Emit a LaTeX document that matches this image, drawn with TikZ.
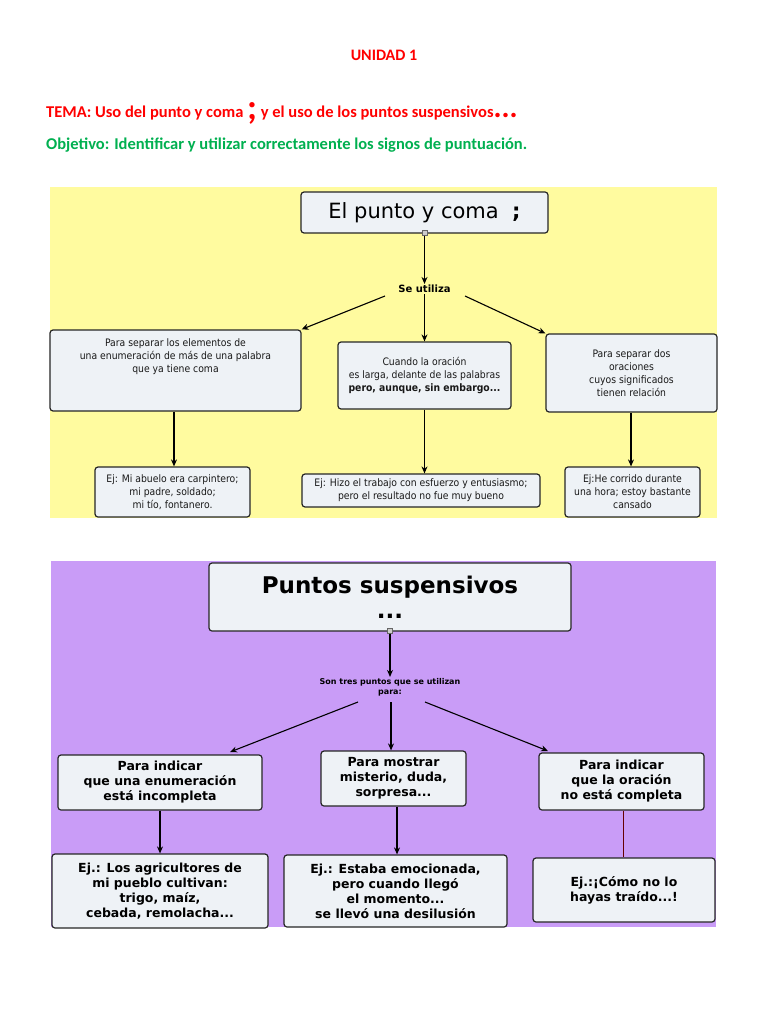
\documentclass[tikz,border=0pt]{standalone}
\usepackage{fontspec}
\setmainfont{Carlito}
\newfontfamily\dv{DejaVu Sans}
\newfontfamily\dvc{DejaVu Sans Condensed}
\usetikzlibrary{arrows.meta}
\definecolor{ttred}{HTML}{FF0000}
\definecolor{ttgreen}{HTML}{00B050}
\definecolor{ybg}{HTML}{FFFB9F}
\definecolor{pbg}{HTML}{C99CF7}
\definecolor{boxf}{HTML}{EEF2F6}
\tikzset{
 bx/.style={draw=black!85,line width=1.2pt,rounded corners=3pt,fill=boxf,align=center,inner sep=0pt},
 ar/.style={-{Stealth[length=7pt,width=6pt]},line width=1.1pt},
 ys/.style={font=\dvc\fontsize{10.3}{13}\selectfont,text=black!90},
 ps/.style={font=\dv\bfseries\fontsize{12.5}{15}\selectfont},
}
\begin{document}
\begin{tikzpicture}[x=1pt,y=-1pt]
\useasboundingbox (0,0) rectangle (768,1024);
\fill[white] (0,0) rectangle (768,1024);
\node[font=\bfseries\fontsize{16}{19}\selectfont,text=ttred] (u) at (384,55) {UNIDAD 1};
\node[anchor=west,font=\bfseries\fontsize{16.5}{19}\selectfont,text=ttred,inner sep=0] (tema) at (46,113) {TEMA: Uso del punto y coma \raisebox{-2pt}{\fontsize{36}{36}\selectfont ;} y el uso de los puntos suspensivos{\fontsize{30}{30}\selectfont ...}};
\node[anchor=west,font=\bfseries\fontsize{16.5}{19}\selectfont,text=ttgreen,inner sep=0] (obj) at (46,145) {Objetivo: Identificar y utilizar correctamente los signos de puntuación.};
% yellow panel
\fill[ybg] (50,187) rectangle (717,518);
\node[bx,minimum width=247,minimum height=41,font=\dv\fontsize{21}{24}\selectfont] (t1) at (424.5,212.5) {El punto y coma \ \textbf{;}};
\node[draw=black!60,fill=gray!40,minimum size=5pt,inner sep=0] (sq1) at (424.5,233) {};
\node[font=\dv\bfseries\fontsize{10}{12}\selectfont,inner sep=1pt] (su) at (424.5,289) {Se utiliza};
\draw[ar] (sq1) -- (su);
\node[bx,ys,minimum width=251,minimum height=81] (a1) at (175.5,370.5) {Para separar los elementos de\\una  enumeración de más de una palabra\\que ya tiene coma\\[16pt]};
\node[bx,ys,minimum width=173,minimum height=67] (a2) at (424.5,375.5) {Cuando la oración\\es larga, delante de las palabras\\\textbf{pero, aunque, sin embargo...}};
\node[bx,ys,minimum width=171,minimum height=78] (a3) at (631.5,373) {Para separar dos\\oraciones\\cuyos significados\\tienen relación};
\coordinate (s1) at (385,296);\coordinate (s3) at (465,296);
\draw[ar] (s1) -- (a1.north east);
\draw[ar] (su) -- (a2);
\draw[ar] (s3) -- (a3.north west);
\node[bx,ys,minimum width=155,minimum height=50] (b1) at (172.5,492) {Ej: Mi abuelo era carpintero;\\mi padre, soldado;\\mi tío, fontanero.};
\node[bx,ys,minimum width=238,minimum height=33] (b2) at (421,490.5) {Ej: Hizo el trabajo con esfuerzo y entusiasmo;\\pero el resultado no fue muy bueno};
\node[bx,ys,minimum width=135,minimum height=50] (b3) at (632.5,492) {Ej:He corrido durante\\una hora; estoy bastante\\cansado};
\draw[ar] (a1.south -| 174,0) -- (b1.north -| 174,0);
\draw[ar] (a2.south) -- (b2.north -| a2.south);
\draw[ar] (a3.south -| 631,0) -- (b3.north -| 631,0);
% purple panel
\fill[pbg] (51,561) rectangle (716,927);
\node[bx,minimum width=362,minimum height=68,font=\dv\bfseries\fontsize{23}{25}\selectfont] (t2) at (390,597) {Puntos suspensivos\\...};
\node[draw=black!60,fill=gray!40,minimum size=5pt,inner sep=0] (sq2) at (390,631) {};
\node[font=\dv\bfseries\fontsize{8}{10}\selectfont,align=center,inner sep=1pt] (st) at (390,687) {Son tres puntos que se utilizan\\para:};
\draw[ar] (sq2) -- (st);
\node[bx,ps,minimum width=204,minimum height=55] (c1) at (160,782.5) {Para indicar\\que una enumeración\\está incompleta};
\node[bx,ps,minimum width=145,minimum height=55] (c2) at (393.5,778.5) {Para mostrar\\misterio, duda,\\sorpresa...};
\node[bx,ps,minimum width=165,minimum height=57] (c3) at (621.5,781.5) {Para indicar\\que la oración\\no está completa};
\coordinate (p1) at (358,702);\coordinate (p2) at (391,702);\coordinate (p3) at (425,702);
\draw[ar] (p1) -- (230,752);
\draw[ar] (p2) -- (c2.north -| p2);
\draw[ar] (p3) -- (548,751);
\node[bx,ps,minimum width=216,minimum height=74] (d1) at (160,891) {Ej.: Los agricultores de\\mi pueblo cultivan:\\trigo, maíz,\\cebada, remolacha...};
\node[bx,ps,minimum width=223,minimum height=72] (d2) at (395.5,891) {Ej.: Estaba emocionada,\\pero cuando llegó\\el momento...\\se llevó una desilusión};
\node[bx,ps,minimum width=182,minimum height=64] (d3) at (624,890) {Ej.:¡Cómo no lo\\hayas traído...!};
\draw[ar] (c1.south -| 160,0) -- (d1.north -| 160,0);
\draw[ar] (c2.south -| 397,0) -- (d2.north -| 397,0);
\draw[line width=0.5pt,red!40!black] (c3.south -| 623,0) -- (d3.north -| 623,0);
\end{tikzpicture}
\end{document}
